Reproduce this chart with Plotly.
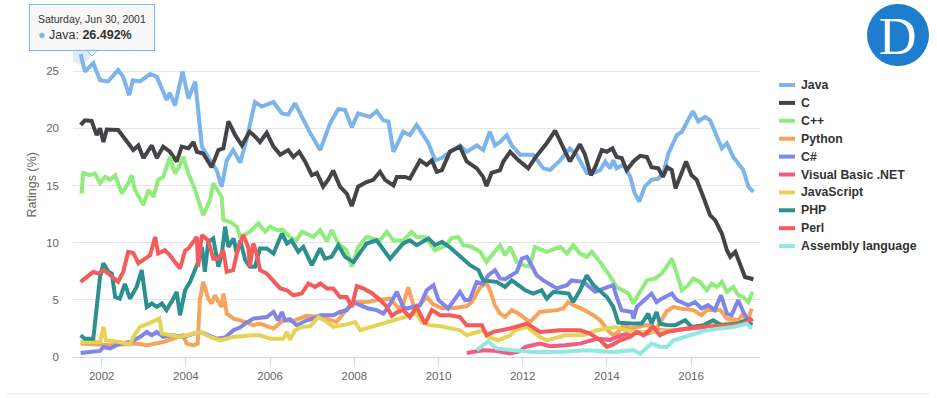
import plotly.graph_objects as go

# ---- data: (decimal year, rating %) ----
java = [(2001.50, 26.49), (2001.60, 24.96), (2001.80, 25.7), (2001.96, 24.2), (2002.15, 24.1), (2002.39, 25.1),
        (2002.51, 24.5), (2002.65, 22.9), (2002.74, 24.2), (2002.91, 24.1), (2003.15, 24.75), (2003.31, 24.5),
        (2003.54, 22.5), (2003.62, 23.1), (2003.74, 22.0), (2003.92, 24.96), (2004.06, 22.6), (2004.22, 24.1),
        (2004.29, 21.6), (2004.38, 18.4), (2004.57, 17.2), (2004.73, 16.35), (2004.85, 14.9), (2004.97, 17.2),
        (2005.12, 18.1), (2005.29, 17.0), (2005.44, 19.0), (2005.52, 20.5), (2005.64, 22.3), (2005.80, 21.9),
        (2006.08, 22.3), (2006.28, 21.3), (2006.43, 21.2), (2006.59, 22.2), (2006.75, 21.0), (2006.95, 19.6),
        (2007.19, 18.1), (2007.42, 20.4), (2007.62, 21.7), (2007.78, 21.6), (2007.94, 20.1), (2008.09, 21.3),
        (2008.37, 21.0), (2008.53, 21.5), (2008.69, 20.7), (2008.81, 20.6), (2008.93, 17.95), (2009.16, 19.7),
        (2009.32, 19.4), (2009.48, 20.3), (2009.60, 19.6), (2009.76, 18.7), (2009.92, 17.2), (2010.08, 17.4),
        (2010.27, 17.95), (2010.51, 18.5), (2010.67, 17.95), (2010.91, 18.5), (2011.06, 18.1), (2011.22, 19.7),
        (2011.34, 18.5), (2011.46, 18.8), (2011.62, 19.4), (2011.74, 18.5), (2011.94, 17.7), (2012.25, 17.7),
        (2012.49, 16.5), (2012.65, 16.35), (2012.89, 17.2), (2013.12, 18.25), (2013.28, 17.7), (2013.52, 16.1),
        (2013.68, 16.1), (2013.84, 16.35), (2013.96, 17.1), (2014.07, 16.5), (2014.15, 17.2), (2014.23, 16.5),
        (2014.39, 16.8), (2014.55, 15.8), (2014.66, 14.3), (2014.77, 13.6), (2014.90, 14.9), (2015.06, 15.5),
        (2015.22, 15.6), (2015.34, 16.1), (2015.46, 17.8), (2015.66, 19.4), (2015.78, 19.7), (2015.90, 20.6),
        (2016.04, 21.5), (2016.17, 20.6), (2016.33, 21.0), (2016.45, 20.7), (2016.61, 19.3), (2016.73, 18.25),
        (2016.85, 18.7), (2017.00, 17.5), (2017.24, 16.35), (2017.36, 14.9), (2017.48, 14.45)]

c_lang = [(2001.50, 20.3), (2001.60, 20.7), (2001.76, 20.65), (2001.88, 19.4), (2001.96, 20.0), (2002.04, 18.8),
          (2002.12, 19.9), (2002.39, 19.85), (2002.63, 18.7), (2002.75, 18.1), (2002.87, 18.5), (2002.99, 17.4),
          (2003.19, 18.5), (2003.31, 17.4), (2003.46, 18.4), (2003.62, 17.95), (2003.78, 17.1), (2003.90, 18.4),
          (2004.06, 18.25), (2004.18, 18.8), (2004.26, 17.95), (2004.41, 17.8), (2004.61, 16.6), (2004.77, 18.1),
          (2004.89, 18.25), (2005.01, 20.6), (2005.17, 19.4), (2005.33, 18.5), (2005.51, 19.7), (2005.64, 19.3),
          (2005.76, 18.8), (2005.92, 19.6), (2006.08, 18.4), (2006.24, 17.7), (2006.43, 18.1), (2006.55, 17.5),
          (2006.69, 17.95), (2006.83, 17.1), (2006.99, 15.9), (2007.11, 16.1), (2007.26, 14.9), (2007.38, 15.5),
          (2007.50, 16.3), (2007.66, 14.9), (2007.82, 14.3), (2007.94, 13.2), (2008.09, 14.9), (2008.29, 15.3),
          (2008.45, 15.5), (2008.61, 16.2), (2008.73, 15.5), (2008.93, 15.0), (2009.01, 15.75), (2009.20, 15.75),
          (2009.32, 15.6), (2009.56, 17.2), (2009.72, 16.8), (2009.84, 17.2), (2009.96, 16.2), (2010.08, 16.35),
          (2010.27, 17.95), (2010.51, 18.4), (2010.67, 17.1), (2010.91, 16.5), (2011.06, 15.75), (2011.14, 14.95),
          (2011.26, 16.1), (2011.46, 16.35), (2011.54, 17.1), (2011.70, 17.95), (2011.90, 17.2), (2012.13, 16.5),
          (2012.29, 17.4), (2012.57, 18.7), (2012.77, 19.8), (2012.96, 18.4), (2013.12, 17.1), (2013.36, 18.6),
          (2013.48, 17.7), (2013.62, 15.9), (2013.72, 16.6), (2013.88, 18.1), (2014.00, 17.95), (2014.13, 18.25),
          (2014.23, 17.5), (2014.35, 17.4), (2014.47, 16.35), (2014.63, 17.1), (2014.79, 17.6), (2014.95, 17.5),
          (2015.06, 16.6), (2015.22, 16.5), (2015.33, 15.75), (2015.43, 16.6), (2015.54, 16.35), (2015.63, 14.75),
          (2015.74, 15.9), (2015.88, 17.1), (2016.01, 15.9), (2016.13, 15.5), (2016.29, 14.0), (2016.45, 12.4),
          (2016.57, 11.97), (2016.73, 10.8), (2016.85, 9.34), (2016.93, 8.76), (2017.05, 9.2), (2017.16, 8.03),
          (2017.28, 7.0), (2017.48, 6.8)]

cpp = [(2001.52, 14.3), (2001.56, 16.1), (2001.72, 15.9), (2001.84, 16.05), (2001.96, 15.2), (2002.08, 15.75),
       (2002.20, 15.5), (2002.32, 15.9), (2002.48, 14.3), (2002.63, 15.2), (2002.71, 15.9), (2002.79, 14.6),
       (2002.99, 13.3), (2003.11, 14.6), (2003.23, 14.0), (2003.34, 15.5), (2003.46, 15.75), (2003.62, 17.5),
       (2003.74, 16.05), (2003.82, 16.5), (2003.94, 17.5), (2004.06, 16.05), (2004.22, 14.6), (2004.41, 12.4),
       (2004.57, 13.7), (2004.65, 15.2), (2004.85, 14.0), (2004.89, 12.0), (2005.05, 11.8), (2005.21, 11.4),
       (2005.29, 10.5), (2005.52, 10.95), (2005.72, 11.7), (2005.88, 10.95), (2006.00, 11.4), (2006.16, 11.1),
       (2006.31, 11.1), (2006.47, 10.5), (2006.63, 10.2), (2006.75, 10.95), (2007.03, 10.5), (2007.19, 11.1),
       (2007.35, 10.1), (2007.46, 11.1), (2007.62, 9.93), (2007.82, 9.34), (2007.94, 7.9), (2008.09, 9.63),
       (2008.29, 10.5), (2008.61, 10.2), (2008.77, 10.95), (2008.93, 10.2), (2009.16, 10.2), (2009.36, 10.95),
       (2009.48, 10.5), (2009.68, 10.5), (2009.92, 9.34), (2010.19, 9.78), (2010.31, 10.4), (2010.47, 10.5),
       (2010.59, 9.78), (2010.79, 9.63), (2010.99, 9.2), (2011.14, 8.3), (2011.30, 9.05), (2011.46, 9.78),
       (2011.58, 8.9), (2011.70, 9.63), (2011.86, 8.3), (2012.01, 8.03), (2012.17, 7.9), (2012.29, 9.63),
       (2012.57, 9.2), (2012.89, 9.63), (2013.05, 9.05), (2013.20, 9.78), (2013.36, 9.05), (2013.52, 8.76),
       (2013.64, 9.2), (2013.84, 8.3), (2014.03, 7.3), (2014.23, 6.13), (2014.51, 5.55), (2014.63, 4.68),
       (2014.71, 5.25), (2014.83, 5.99), (2014.95, 6.7), (2015.15, 6.87), (2015.30, 7.3), (2015.42, 7.9),
       (2015.54, 8.6), (2015.66, 7.3), (2015.78, 5.84), (2015.93, 6.28), (2016.05, 6.87), (2016.21, 6.57),
       (2016.37, 5.84), (2016.49, 6.43), (2016.61, 6.13), (2016.73, 6.57), (2016.85, 5.7), (2017.00, 6.13),
       (2017.12, 5.4), (2017.24, 5.25), (2017.36, 4.8), (2017.46, 5.7)]

python = [(2001.50, 1.17), (2002.20, 1.02), (2002.83, 1.17), (2003.07, 1.02), (2003.46, 1.31), (2003.78, 1.75),
          (2003.93, 1.9), (2004.02, 1.17), (2004.18, 1.02), (2004.28, 1.17), (2004.33, 4.97), (2004.41, 6.57),
          (2004.53, 5.1), (2004.61, 4.68), (2004.69, 5.4), (2004.76, 4.9), (2004.85, 4.38), (2004.89, 5.55),
          (2004.97, 3.8), (2005.13, 3.36), (2005.29, 3.21), (2005.60, 2.78), (2005.76, 2.92), (2006.08, 2.49),
          (2006.31, 3.21), (2006.55, 3.15), (2006.87, 3.6), (2007.19, 3.5), (2007.38, 3.3), (2007.58, 3.06),
          (2007.74, 3.8), (2007.90, 4.53), (2008.06, 4.8), (2008.29, 4.8), (2008.53, 4.97), (2008.85, 5.1),
          (2009.05, 4.24), (2009.16, 4.6), (2009.28, 6.1), (2009.44, 4.1), (2009.72, 5.25), (2009.87, 4.6),
          (2010.11, 4.24), (2010.43, 4.3), (2010.67, 4.45), (2010.79, 4.8), (2010.99, 6.1), (2011.14, 6.5),
          (2011.22, 5.84), (2011.34, 4.53), (2011.46, 3.8), (2011.58, 3.5), (2011.74, 4.1), (2011.90, 3.8),
          (2012.06, 3.36), (2012.17, 3.06), (2012.29, 3.5), (2012.41, 3.94), (2012.81, 4.1), (2012.96, 4.24),
          (2013.08, 4.8), (2013.20, 4.53), (2013.36, 4.3), (2013.68, 3.65), (2013.84, 3.21), (2014.03, 2.3),
          (2014.15, 1.9), (2014.27, 2.19), (2014.39, 2.78), (2014.55, 2.5), (2014.95, 2.8), (2015.18, 2.49),
          (2015.34, 3.5), (2015.42, 4.0), (2015.58, 4.38), (2015.74, 4.24), (2016.05, 4.1), (2016.25, 3.65),
          (2016.37, 4.1), (2016.69, 4.1), (2016.85, 3.36), (2017.12, 3.21), (2017.24, 3.8), (2017.32, 2.92),
          (2017.44, 4.24)]

csharp = [(2001.50, 0.35), (2001.96, 0.53), (2002.04, 0.88), (2002.20, 0.75), (2002.43, 1.17), (2002.67, 1.31),
          (2002.91, 1.75), (2003.07, 2.19), (2003.19, 1.9), (2003.31, 2.19), (2003.46, 1.75), (2003.70, 1.9),
          (2003.94, 1.75), (2004.18, 2.05), (2004.33, 2.19), (2004.73, 1.6), (2004.93, 1.7), (2005.13, 2.34),
          (2005.29, 2.6), (2005.44, 3.0), (2005.60, 3.36), (2005.92, 3.5), (2006.08, 3.94), (2006.19, 3.2),
          (2006.28, 3.94), (2006.35, 3.21), (2006.47, 3.3), (2006.63, 2.78), (2006.87, 3.21), (2007.03, 3.36),
          (2007.19, 3.65), (2007.50, 3.65), (2007.66, 3.94), (2007.82, 4.1), (2007.98, 4.8), (2008.14, 4.53),
          (2008.33, 4.24), (2008.53, 4.1), (2008.69, 3.8), (2008.81, 4.38), (2009.01, 5.7), (2009.16, 4.38),
          (2009.24, 4.24), (2009.56, 4.53), (2009.72, 5.84), (2009.88, 6.28), (2010.00, 4.97), (2010.15, 4.5),
          (2010.23, 4.24), (2010.51, 5.7), (2010.63, 4.97), (2010.74, 5.0), (2010.91, 6.57), (2011.06, 6.4),
          (2011.18, 7.15), (2011.34, 7.6), (2011.46, 6.87), (2011.58, 6.8), (2011.74, 7.15), (2011.86, 7.45),
          (2011.98, 8.6), (2012.10, 8.76), (2012.21, 8.03), (2012.33, 7.15), (2012.49, 6.7), (2012.81, 6.0),
          (2013.05, 6.28), (2013.16, 6.7), (2013.44, 6.57), (2013.72, 5.7), (2014.03, 6.13), (2014.15, 6.28),
          (2014.23, 5.25), (2014.35, 4.1), (2014.59, 3.94), (2014.63, 3.36), (2014.71, 4.38), (2014.83, 4.8),
          (2015.06, 5.55), (2015.18, 4.8), (2015.30, 5.1), (2015.54, 5.55), (2015.66, 4.97), (2015.93, 4.53),
          (2016.09, 4.8), (2016.25, 4.24), (2016.40, 4.53), (2016.56, 4.1), (2016.71, 5.4), (2016.85, 3.8),
          (2016.96, 3.65), (2017.12, 4.97), (2017.24, 3.94), (2017.36, 3.21), (2017.44, 3.36)]

vbnet = [(2010.67, 0.35), (2011.06, 0.59), (2011.34, 0.55), (2011.70, 0.3), (2011.94, 0.5), (2012.06, 0.88),
         (2012.41, 1.17), (2012.65, 0.95), (2013.00, 1.02), (2013.36, 1.17), (2013.76, 1.6), (2014.07, 1.5),
         (2014.35, 1.9), (2014.66, 2.2), (2014.90, 2.0), (2015.22, 2.34), (2015.50, 2.3), (2015.97, 2.5),
         (2016.45, 2.7), (2016.93, 2.9), (2017.28, 3.0), (2017.47, 3.3)]

javascript = [(2001.50, 1.31), (2001.96, 1.31), (2002.04, 2.63), (2002.10, 1.46), (2002.43, 1.31), (2002.67, 1.1),
              (2002.75, 1.75), (2002.91, 2.63), (2003.11, 2.92), (2003.27, 3.21), (2003.37, 3.36), (2003.43, 2.05),
              (2003.62, 1.9), (2003.86, 1.75), (2004.33, 2.19), (2004.57, 1.75), (2004.81, 1.46), (2005.13, 1.75),
              (2005.60, 1.9), (2005.76, 1.9), (2006.00, 1.6), (2006.31, 1.6), (2006.40, 2.19), (2006.47, 1.5),
              (2006.59, 2.34), (2006.75, 2.63), (2006.95, 2.7), (2007.15, 3.5), (2007.30, 3.2), (2007.50, 2.63),
              (2007.82, 2.85), (2008.02, 3.06), (2008.14, 2.34), (2008.53, 2.78), (2008.77, 3.06), (2009.09, 3.36),
              (2009.48, 3.8), (2009.60, 3.06), (2009.80, 2.78), (2010.04, 2.7), (2010.51, 2.34), (2010.67, 1.9),
              (2011.06, 2.34), (2011.18, 1.75), (2011.42, 1.46), (2011.70, 1.9), (2011.82, 2.34), (2012.10, 2.63),
              (2012.41, 1.75), (2012.57, 1.46), (2013.00, 1.9), (2013.44, 1.9), (2013.76, 2.34), (2014.19, 2.63),
              (2014.59, 2.19), (2015.06, 2.19), (2015.62, 2.34), (2016.09, 2.63), (2016.56, 2.78), (2017.20, 3.06),
              (2017.47, 2.9)]

php = [(2001.50, 1.9), (2001.60, 1.6), (2001.80, 1.6), (2001.88, 4.1), (2001.96, 7.0), (2002.04, 8.2),
       (2002.16, 7.45), (2002.24, 7.3), (2002.32, 5.25), (2002.43, 5.1), (2002.55, 6.4), (2002.67, 5.1),
       (2002.83, 6.13), (2002.95, 7.6), (2003.07, 4.38), (2003.19, 4.68), (2003.31, 4.38), (2003.43, 4.68),
       (2003.54, 4.1), (2003.70, 5.1), (2003.78, 5.7), (2003.86, 3.65), (2003.98, 5.84), (2004.10, 6.57),
       (2004.22, 7.6), (2004.29, 8.3), (2004.38, 9.63), (2004.45, 7.45), (2004.53, 10.07), (2004.65, 10.37),
       (2004.77, 7.9), (2004.85, 8.9), (2004.93, 11.4), (2005.01, 9.63), (2005.13, 10.37), (2005.21, 9.05),
       (2005.29, 10.2), (2005.41, 8.47), (2005.52, 7.9), (2005.64, 7.9), (2005.76, 9.5), (2005.92, 9.5),
       (2006.08, 9.05), (2006.28, 10.8), (2006.40, 9.93), (2006.51, 10.2), (2006.67, 9.2), (2006.79, 9.63),
       (2006.99, 8.03), (2007.19, 9.5), (2007.30, 8.6), (2007.46, 8.76), (2007.62, 9.78), (2007.78, 8.76),
       (2007.98, 8.3), (2008.29, 9.93), (2008.53, 10.2), (2008.69, 9.34), (2008.85, 8.6), (2009.16, 9.93),
       (2009.32, 10.2), (2009.48, 9.78), (2009.76, 10.37), (2009.92, 9.78), (2010.08, 10.07), (2010.27, 9.6),
       (2010.51, 8.76), (2010.75, 8.03), (2010.95, 7.6), (2011.06, 6.7), (2011.38, 6.57), (2011.58, 6.13),
       (2011.74, 6.7), (2012.06, 5.84), (2012.25, 5.55), (2012.45, 5.84), (2012.57, 5.1), (2012.73, 5.7),
       (2013.09, 5.55), (2013.20, 4.8), (2013.36, 5.84), (2013.52, 7.15), (2013.68, 6.28), (2014.00, 5.25),
       (2014.15, 4.38), (2014.27, 3.0), (2014.59, 2.92), (2014.83, 2.92), (2014.98, 3.8), (2015.06, 2.9),
       (2015.18, 3.94), (2015.26, 2.9), (2015.42, 2.8), (2015.62, 2.78), (2015.86, 3.21), (2016.01, 2.63),
       (2016.29, 2.78), (2016.52, 3.21), (2016.72, 2.78), (2017.08, 2.92), (2017.32, 3.21), (2017.44, 2.78)]

perl = [(2001.50, 6.57), (2001.64, 7.0), (2001.80, 7.45), (2001.92, 7.3), (2002.04, 7.6), (2002.16, 7.3),
        (2002.28, 6.87), (2002.39, 6.57), (2002.51, 7.45), (2002.63, 9.2), (2002.75, 9.1), (2002.87, 8.2),
        (2002.99, 8.5), (2003.15, 8.9), (2003.27, 10.5), (2003.34, 9.05), (2003.50, 9.34), (2003.62, 8.9),
        (2003.74, 8.3), (2003.86, 7.74), (2003.98, 9.3), (2004.06, 9.5), (2004.26, 10.5), (2004.29, 7.9),
        (2004.38, 10.66), (2004.53, 10.2), (2004.65, 8.6), (2004.77, 8.6), (2004.89, 9.3), (2004.97, 7.45),
        (2005.12, 7.6), (2005.24, 9.5), (2005.36, 10.66), (2005.48, 9.63), (2005.52, 7.9), (2005.60, 9.93),
        (2005.68, 9.05), (2005.76, 7.6), (2005.92, 7.3), (2006.08, 6.7), (2006.24, 6.0), (2006.40, 5.84),
        (2006.55, 5.4), (2006.75, 5.55), (2006.91, 6.43), (2007.07, 6.13), (2007.19, 6.43), (2007.35, 6.0),
        (2007.50, 6.0), (2007.66, 5.25), (2007.82, 5.25), (2007.94, 4.38), (2008.06, 6.2), (2008.21, 6.0),
        (2008.41, 5.6), (2008.61, 5.0), (2008.77, 4.4), (2008.89, 3.6), (2009.01, 3.9), (2009.16, 4.1),
        (2009.32, 3.5), (2009.48, 4.38), (2009.68, 2.9), (2009.84, 4.1), (2010.04, 3.65), (2010.27, 3.65),
        (2010.51, 3.5), (2010.67, 2.78), (2011.03, 2.78), (2011.14, 1.9), (2011.30, 2.2), (2011.70, 2.49),
        (2011.94, 2.78), (2012.10, 2.92), (2012.41, 2.19), (2012.89, 2.34), (2013.36, 2.34), (2013.60, 2.05),
        (2013.84, 1.46), (2014.00, 0.88), (2014.15, 1.1), (2014.31, 1.46), (2014.55, 1.75), (2014.71, 2.19),
        (2014.87, 1.9), (2015.10, 2.63), (2015.26, 1.9), (2015.42, 2.19), (2015.90, 2.49), (2016.21, 2.63),
        (2016.93, 2.78), (2017.24, 2.92), (2017.44, 3.36)]

assembly = [(2010.91, 0.6), (2011.06, 1.02), (2011.18, 1.37), (2011.38, 0.73), (2011.78, 0.59), (2012.25, 0.44),
            (2012.81, 0.44), (2013.52, 0.59), (2014.15, 0.44), (2014.63, 0.6), (2014.79, 0.3), (2015.06, 1.17),
            (2015.26, 0.9), (2015.42, 0.88), (2015.58, 1.46), (2015.82, 1.75), (2016.10, 2.0), (2016.37, 2.34),
            (2016.69, 2.49), (2017.01, 2.63), (2017.32, 2.92), (2017.44, 2.49)]

names = ["Java", "C", "C++", "Python", "C#", "Visual Basic .NET", "JavaScript", "PHP", "Perl", "Assembly language"]
colors = ["#7cb5ec", "#434348", "#90ed7d", "#f7a35c", "#8085e9", "#f15c80", "#e4d354", "#2b908f", "#f45b5b", "#91e8e1"]
series = [java, c_lang, cpp, python, csharp, vbnet, javascript, php, perl, assembly]

x_ticks = [2002, 2004, 2006, 2008, 2010, 2012, 2014, 2016]
y_ticks = [0, 5, 10, 15, 20, 25, 30]
# the "30" label sits under the tooltip in the reference, so it is left blank
y_ticktext = ["0", "5", "10", "15", "20", "25", ""]

tooltip_date = "Saturday, Jun 30, 2001"
tooltip_value = "26.492%"

# ---- layout geometry (pixels) ----
W, H = 937, 398
L, R, T, B = 73, 177, 14, 41
PW, PH = W - L - R, H - T - B


def px(xp):
    return (xp - L) / PW


def py(yp):
    return (H - B - yp) / PH


FONT = "Liberation Sans, Arial, sans-serif"

fig = go.Figure()

for name, color, data in zip(names, colors, series):
    fig.add_trace(go.Scatter(
        x=[d[0] for d in data], y=[d[1] for d in data], name=name, mode="lines",
        line=dict(color=color, width=4), showlegend=False, hoverinfo="skip"))

# hover halo on the first Java point
fig.add_trace(go.Scatter(x=[java[0][0]], y=[java[0][1]], mode="markers", showlegend=False,
                         hoverinfo="skip",
                         marker=dict(size=20, color="rgba(124,181,236,0.25)", line=dict(width=0))))

shapes = []
annotations = []

# legend (drawn manually for the reference's tighter row spacing)
for i, (name, color) in enumerate(zip(names, colors)):
    yp = 85 + 17.9 * i
    shapes.append(dict(type="line", xref="paper", yref="paper", x0=px(779), x1=px(795), y0=py(yp), y1=py(yp),
                       line=dict(color=color, width=4)))
    annotations.append(dict(xref="paper", yref="paper", x=px(799), y=py(yp), xanchor="left", yanchor="middle",
                            text="<b>%s</b>" % name, showarrow=False,
                            font=dict(family=FONT, size=12.3, color="#333333")))

# bottom separator line
shapes.append(dict(type="line", xref="paper", yref="paper", x0=px(7), x1=px(930), y0=py(394), y1=py(394),
                   line=dict(color="#e6e6e6", width=1)))

# logo
shapes.append(dict(type="circle", xref="paper", yref="paper", x0=px(867), x1=px(929), y0=py(66), y1=py(4),
                   fillcolor="#1e7dcc", line=dict(width=0)))
annotations.append(dict(xref="paper", yref="paper", x=px(898), y=py(36), xanchor="center", yanchor="middle",
                        text="D", showarrow=False,
                        font=dict(family="Liberation Serif, DejaVu Serif, serif", size=52, color="white")))

# y-axis title
annotations.append(dict(xref="paper", yref="paper", x=px(31), y=0.5, xanchor="center", yanchor="middle",
                        text="Ratings (%)", textangle=-90, showarrow=False,
                        font=dict(family=FONT, size=12.5, color="#666666")))

# tooltip pointer + box
shapes.append(dict(type="path", xref="paper", yref="paper",
                   path="M %f,%f L %f,%f L %f,%f Z" % (px(86), py(49.5), px(92), py(56), px(98), py(49.5)),
                   fillcolor="rgba(247,247,247,0.95)", line=dict(color="#7cb5ec", width=1), layer="above"))
annotations.append(dict(xref="paper", yref="paper", x=px(29), y=py(4), xanchor="left", yanchor="top",
                        text=("<span style='font-size:10.5px'>%s</span><br>"
                              "<span style='color:#7cb5ec'>\u25cf</span> Java: <b>%s</b>") % (tooltip_date, tooltip_value),
                        showarrow=False, align="left", bgcolor="rgba(247,247,247,0.92)",
                        bordercolor="#7cb5ec", borderwidth=1, borderpad=8,
                        font=dict(family=FONT, size=12.5, color="#333333")))

fig.update_layout(
    width=W, height=H, margin=dict(l=L, r=R, t=T, b=B, pad=0),
    paper_bgcolor="white", plot_bgcolor="white", showlegend=False,
    shapes=shapes, annotations=annotations,
    xaxis=dict(range=[2001.318, 2017.636], tickmode="array", tickvals=x_ticks,
               ticktext=[str(v) for v in x_ticks], showgrid=False, zeroline=False,
               showline=True, linecolor="#ccd6eb", linewidth=1,
               ticks="outside", ticklen=8, tickcolor="#ccd6eb", tickwidth=1,
               tickfont=dict(family=FONT, size=11.5, color="#666666")),
    yaxis=dict(range=[0, 30], tickmode="array", tickvals=y_ticks, ticktext=y_ticktext,
               showgrid=True, gridcolor="#e6e6e6", gridwidth=1, zeroline=False, showline=False,
               ticks="", ticklabelstandoff=13,
               tickfont=dict(family=FONT, size=11.5, color="#666666")),
)

fig.write_html("out.html", config={"displayModeBar": False},
               post_script="document.body.style.margin='0px';document.body.style.overflow='hidden';")
